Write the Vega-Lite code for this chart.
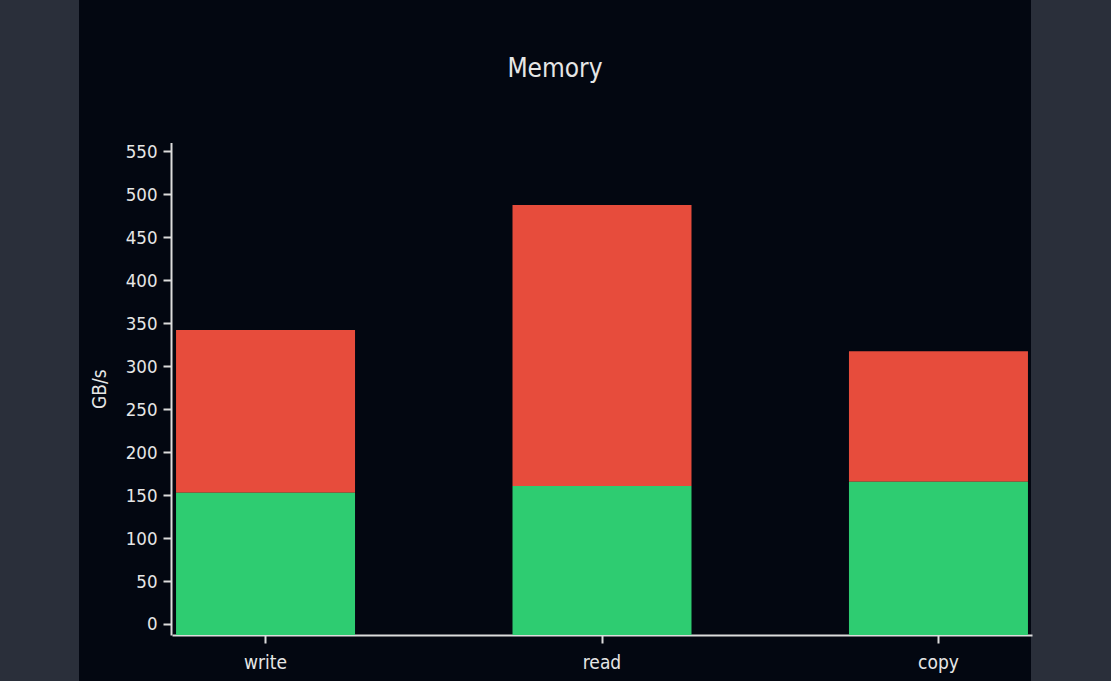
{
  "$schema": "https://vega.github.io/schema/vega-lite/v6.json",
  "width": 952,
  "height": 681,
  "autosize": {"type": "none"},
  "padding": {"left": 79, "right": 80, "top": 0, "bottom": 0},
  "background": "#2a2f3a",
  "config": {
    "font": "DejaVu Sans Condensed, DejaVu Sans",
    "view": {"fill": "#030711", "stroke": null}
  },
  "title": {
    "text": "Memory",
    "fontSize": 26,
    "fontWeight": "normal",
    "color": "#e6e6e6",
    "anchor": "middle",
    "frame": "group",
    "baseline": "alphabetic",
    "offset": -103
  },
  "data": {
    "values": [
      {"test": "write", "green": 152.7, "total": 341.9},
      {"test": "read", "green": 160.5, "total": 487.2},
      {"test": "copy", "green": 165.5, "total": 317.1}
    ]
  },
  "encoding": {
    "x": {
      "field": "test",
      "type": "nominal",
      "sort": null,
      "scale": {"range": [93, 953], "paddingInner": 0.468, "paddingOuter": 0.012},
      "axis": {
        "title": null,
        "offset": -46,
        "labelAngle": 0,
        "labelFontSize": 19,
        "labelColor": "#e6e6e6",
        "labelPadding": 10,
        "domainColor": "#dcdcdc",
        "domainWidth": 2,
        "tickColor": "#dcdcdc",
        "tickWidth": 2,
        "tickSize": 8
      }
    }
  },
  "layer": [
    {
      "mark": {"type": "bar", "color": "#e74c3c"},
      "encoding": {
        "y": {
          "field": "total",
          "type": "quantitative",
          "scale": {"domain": [-12.8, 560], "range": [635, 142.5], "nice": false, "zero": false},
          "axis": {
            "title": "GB/s",
            "offset": -92,
            "values": [0, 50, 100, 150, 200, 250, 300, 350, 400, 450, 500, 550],
            "grid": false,
            "labelFontSize": 18.5,
            "labelColor": "#e6e6e6",
            "labelPadding": 6,
            "titleFontSize": 19,
            "titleFontWeight": "normal",
            "titleColor": "#e6e6e6",
            "titlePadding": 16,
            "domainColor": "#dcdcdc",
            "domainWidth": 2,
            "tickColor": "#dcdcdc",
            "tickWidth": 2,
            "tickSize": 8
          }
        },
        "y2": {"field": "green"}
      }
    },
    {
      "mark": {"type": "bar", "color": "#2ecc71"},
      "encoding": {
        "y": {"field": "green", "type": "quantitative"},
        "y2": {"datum": -12.8}
      }
    }
  ]
}
